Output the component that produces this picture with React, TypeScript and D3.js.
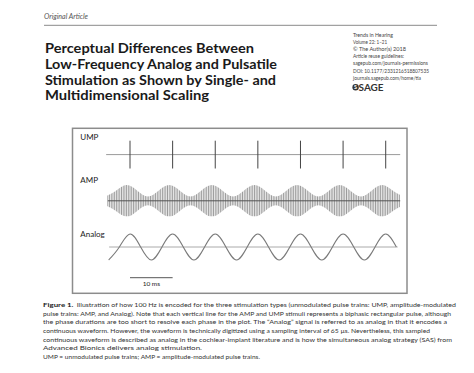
import * as d3 from 'd3';

const W = 474;
const H = 373;

// journal header, right column
const headerLines = [
  'Trends in Hearing',
  'Volume 22: 1–21',
  '© The Author(s) 2018',
  'Article reuse guidelines:',
  'sagepub.com/journals-permissions',
  'DOI: 10.1177/2331216518807535',
  'journals.sagepub.com/home/tia',
];
const headerEnds = [393, 387, 406, 404, 428, 429, 421];

const titleLines = [
  'Perceptual Differences Between',
  'Low-Frequency Analog and Pulsatile',
  'Stimulation as Shown by Single- and',
  'Multidimensional Scaling',
];
const titleEnds = [254, 277, 276, 209];

const captionLines = [
  'Illustration of how 100 Hz is encoded for the three stimulation types (unmodulated pulse trains: UMP, amplitude-modulated',
  'pulse trains: AMP, and Analog). Note that each vertical line for the AMP and UMP stimuli represents a biphasic rectangular pulse, although',
  'the phase durations are too short to resolve each phase in the plot. The “Analog” signal is referred to as analog in that it encodes a',
  'continuous waveform. However, the waveform is technically digitized using a sampling interval of 65 µs. Nevertheless, this sampled',
  'continuous waveform is described as analog in the cochlear-implant literature and is how the simultaneous analog strategy (SAS) from',
  'Advanced Bionics delivers analog stimulation.',
  'UMP = unmodulated pulse trains; AMP = amplitude-modulated pulse trains.',
];
const captionEnds = [456, 451, 447, 430, 452, 202, 260];

const rowLabels = ['UMP', 'AMP', 'Analog'];

// waveforms, time in ms
const umpPulses = [5, 15, 25, 35, 45, 55, 65];
const ampPulseStep = 0.4;
const ampEnvelope: [number, number][] = [
  [-0.8, 0.28], [1.7, 0.64], [4.2, 1], [6.7, 0.64], [9.2, 0.28], [11.7, 0.64],
  [14.2, 1], [16.7, 0.64], [19.2, 0.28], [21.7, 0.64], [24.2, 1], [26.7, 0.64],
  [29.2, 0.28], [31.7, 0.64], [34.2, 1], [36.7, 0.64], [39.2, 0.28], [41.7, 0.64],
  [44.2, 1], [46.7, 0.64], [49.2, 0.28], [51.7, 0.64], [54.2, 1], [56.7, 0.64],
  [59.2, 0.28], [61.7, 0.64], [64.2, 1], [66.7, 0.64], [69.2, 0.28],
];
const analogKnots: [number, number][] = [
  [0, -1], [2.5, 0], [5, 1], [7.5, 0], [10, -1], [12.5, 0], [15, 1], [17.5, 0],
  [20, -1], [22.5, 0], [25, 1], [27.5, 0], [30, -1], [32.5, 0], [35, 1], [37.5, 0],
  [40, -1], [42.5, 0], [45, 1], [47.5, 0], [50, -1], [52.5, 0], [55, 1], [57.5, 0],
  [60, -1], [62.5, 0], [65, 1], [67.5, 0],
];
const scaleBar = [5, 15];

const sans = 'Lato, "Open Sans", sans-serif';

export default function App() {
  const x = d3.scaleLinear().domain([0, 60]).range([108.7, 364.4]);
  const yUmp = d3.scaleLinear().domain([-1, 1]).range([168.5, 140.7]);
  const yAmp = d3.scaleLinear().domain([-1, 1]).range([216.6, 185]);
  const yAna = d3.scaleLinear().domain([-1, 1]).range([260, 234]);

  const analogLine = d3.line<[number, number]>()
    .x(d => x(d[0])).y(d => yAna(d[1]))
    .curve(d3.curveNatural);
  const envArea = d3.area<[number, number]>()
    .x(d => x(d[0])).y0(d => yAmp(-d[1])).y1(d => yAmp(d[1]))
    .curve(d3.curveNatural);
  const ampPulses = d3.range(-0.2, 68.45, ampPulseStep);

  const labelY = [140, 183, 236.5];

  return (
    <svg width={W} height={H} style={{ position: 'absolute', left: 0, top: 0, background: '#fff' }}
      fontFamily={sans}>
      <rect width={W} height={H} fill="#fff" />

      {/* header */}
      <text x={44} y={19} fontSize={7.5} fontStyle="italic" fill="#555" textLength={44}
        lengthAdjust="spacingAndGlyphs">Original Article</text>
      <line x1={44} x2={437} y1={25.3} y2={25.3} stroke="#8a8a8a" strokeWidth={1} />

      {titleLines.map((t, i) => (
        <text key={t} x={45} y={53 + i * 15.8} fontSize={14} fontWeight="bold" fill="#1a1a1a"
          textLength={titleEnds[i] - 45} lengthAdjust="spacingAndGlyphs">{t}</text>
      ))}

      {headerLines.map((t, i) => (
        <text key={t} x={353} y={37 + i * 7.1} fontSize={5.4} fill="#444"
          textLength={headerEnds[i] - 353} lengthAdjust="spacingAndGlyphs">{t}</text>
      ))}
      <circle cx={355.6} cy={87.2} r={3.2} fill="#333" />
      <text x={355.6} y={89.3} fontSize={5.5} fontWeight="bold" fill="#fff" textAnchor="middle">S</text>
      <text x={358.6} y={90.8} fontSize={10} fontWeight="bold" fill="#333" textLength={25}
        lengthAdjust="spacingAndGlyphs">SAGE</text>

      {/* figure frame */}
      <rect x={72.5} y={128.3} width={334.5} height={165} fill="none" stroke="#8c8c8c" strokeWidth={1.5} />

      {rowLabels.map((l, i) => (
        <text key={l} x={80.3} y={labelY[i]} fontSize={8} fill="#222">{l}</text>
      ))}

      {/* UMP */}
      <line x1={x(-0.6)} x2={x(68.4)} y1={yUmp(0)} y2={yUmp(0)} stroke="#9a9a9a" strokeWidth={1} />
      {umpPulses.map(t => (
        <line key={t} x1={x(t)} x2={x(t)} y1={yUmp(-1)} y2={yUmp(1)} stroke="#444" strokeWidth={1} />
      ))}

      {/* AMP */}
      <defs>
        <clipPath id="amp-env">
          <path d={envArea(ampEnvelope) ?? ''} />
        </clipPath>
      </defs>
      <g clipPath="url(#amp-env)">
        {ampPulses.map(t => (
          <line key={t} x1={x(t)} x2={x(t)} y1={yAmp(-1)} y2={yAmp(1)} stroke="#9c9c9c" strokeWidth={1} />
        ))}
      </g>
      <line x1={x(-0.2)} x2={x(68.4)} y1={yAmp(0)} y2={yAmp(0)} stroke="#555" strokeWidth={1} />

      {/* Analog */}
      <line x1={x(0.1)} x2={x(67.8)} y1={yAna(0)} y2={yAna(0)} stroke="#aaa" strokeWidth={1} />
      <path d={analogLine(analogKnots) ?? ''} fill="none" stroke="#7a7a7a" strokeWidth={1.1} />

      {/* scale bar */}
      <line x1={x(scaleBar[0])} x2={x(scaleBar[1])} y1={277.7} y2={277.7} stroke="#444" strokeWidth={0.9} />
      <text x={x((scaleBar[0] + scaleBar[1]) / 2)} y={285.6} fontSize={6.5} fill="#222"
        textAnchor="middle">10 ms</text>

      {/* caption */}
      <text x={43} y={307.2} fontSize={6.3} fontWeight="bold" fill="#222" textLength={30.5}
        lengthAdjust="spacingAndGlyphs">Figure 1.</text>
      {captionLines.map((t, i) => {
        const x0 = i === 0 ? 76.7 : 43;
        return (
          <text key={i} x={x0} y={307.2 + i * 8.6} fontSize={6.3} fill="#333"
            textLength={captionEnds[i] - x0} lengthAdjust="spacingAndGlyphs">{t}</text>
        );
      })}
    </svg>
  );
}
